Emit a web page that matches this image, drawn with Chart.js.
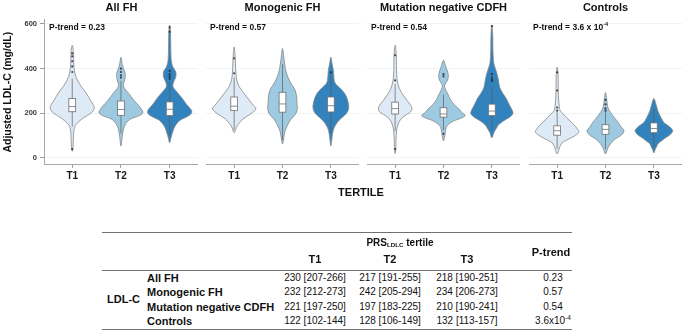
<!DOCTYPE html>
<html><head><meta charset="utf-8">
<script src="https://cdn.jsdelivr.net/npm/chart.js@4.4.0/dist/chart.umd.min.js"></script>
<style>
html,body{margin:0;padding:0;background:#fff;}
#wrap{position:relative;width:685px;height:331px;overflow:hidden;font-family:"Liberation Sans",Arial,Helvetica,sans-serif;color:#111;}
canvas{position:absolute;top:0;}
.t{position:absolute;white-space:nowrap;line-height:12px;height:12px;}
.b{font-weight:bold;}
.hl{position:absolute;height:0;border-top:1px solid #707070;}
sup{font-size:65%;vertical-align:4px;line-height:0;}
sub{font-size:62%;vertical-align:-1px;line-height:0;}
</style></head><body><div id="wrap"></div>
<script>
// ---------- data ----------
const tertiles = ['T1','T2','T3'];
const panelTitles = ['All FH','Monogenic FH','Mutation negative CDFH','Controls'];
const pTrend = ['0.23','0.57','0.54','3.6x10<sup>-4</sup>'];
const yTicks = [0,200,400,600];

const median_allFH = [230,217,218], q1_allFH = [207,191,190], q3_allFH = [266,255,251];
const median_mono  = [232,242,234], q1_mono  = [212,205,206], q3_mono  = [273,294,273];
const median_mutneg= [221,197,210], q1_mutneg= [197,183,190], q3_mutneg= [250,225,241];
const median_ctrl  = [122,128,132], q1_ctrl  = [102,106,113], q3_ctrl  = [144,149,157];

const whisk_allFH  = [[140,355],[110,345],[100,340]];
const whisk_mono   = [[125,360],[80,420],[110,370]];
const whisk_mutneg = [[120,330],[125,285],[125,315]];
const whisk_ctrl   = [[40,205],[40,210],[50,220]];

const out_allFH  = [[468,455,433,410,385,40],[400,385,370,360],[585,565,390,375,365,355]];
const out_mono   = [[446,379],[],[383]];
const out_mutneg = [[460,347,40],[375,365,108],[590,375,360,350,345]];
const out_ctrl   = [[383,302,226,212],[260,240,222,212],[]];

// violin profiles: [value, relative half-width]
const violin_allFH_T1 = [[505,0],[470,.06],[420,.07],[380,.12],[350,.23],[320,.41],[290,.64],[260,.82],[235,.98],[220,1.0],[205,.9],[190,.68],[175,.45],[160,.27],[145,.14],[120,.07],[80,.05],[40,.03],[30,0]];
const violin_allFH_T2 = [[451,0],[420,.06],[400,.12],[375,.2],[350,.17],[320,.12],[290,.35],[257,.6],[230,.85],[205,1.0],[190,.85],[175,.45],[155,.23],[130,.12],[110,.08],[80,.04],[54,0]];
const violin_allFH_T3 = [[595,0],[560,.04],[500,.05],[440,.07],[410,.14],[385,.28],[360,.27],[335,.16],[315,.17],[290,.38],[270,.55],[240,.77],[212,1.0],[195,.95],[180,.7],[167,.45],[140,.23],[110,.12],[90,.06],[68,0]];
const violin_mono_T1  = [[497,0],[450,.05],[400,.07],[360,.1],[320,.23],[277,.55],[243,.82],[220,1.0],[198,.77],[175,.41],[144,.14],[125,.06],[113,0]];
const violin_mono_T2  = [[490,0],[460,.05],[420,.1],[380,.18],[340,.35],[310,.55],[280,.64],[250,.66],[222,.68],[200,.62],[185,.5],[165,.33],[140,.2],[115,.1],[85,.05],[63,0]];
const violin_mono_T3  = [[451,0],[420,.06],[390,.12],[360,.14],[335,.2],[310,.45],[285,.66],[255,.78],[225,.82],[200,.72],[180,.5],[160,.3],[135,.15],[110,.08],[80,.04],[54,0]];
const violin_mutneg_T1= [[505,0],[460,.05],[400,.06],[350,.09],[310,.2],[280,.38],[257,.55],[235,.72],[220,.77],[205,.7],[190,.45],[170,.23],[140,.1],[100,.05],[40,.03],[20,0]];
const violin_mutneg_T2= [[437,0],[405,.12],[383,.2],[365,.22],[347,.18],[330,.07],[315,.06],[290,.18],[265,.3],[243,.45],[220,.7],[203,.85],[190,1.0],[178,.8],[165,.45],[145,.18],[125,.1],[100,.06],[77,0]];
const violin_mutneg_T3= [[595,0],[550,.04],[480,.05],[430,.08],[406,.14],[379,.23],[350,.3],[317,.36],[290,.5],[270,.64],[235,.82],[210,.95],[198,.96],[185,.85],[167,.55],[150,.32],[137,.23],[115,.1],[90,0]];
const violin_ctrl_T1  = [[406,0],[380,.04],[340,.05],[300,.05],[260,.07],[230,.1],[212,.14],[195,.3],[180,.45],[160,.65],[144,.82],[128,.95],[117,1.0],[105,.9],[90,.64],[78,.4],[68,.23],[50,.12],[40,.09],[18,0]];
const violin_ctrl_T2  = [[293,0],[260,.06],[230,.1],[212,.18],[195,.3],[175,.45],[160,.58],[144,.68],[130,.8],[122,.85],[110,.8],[99,.68],[85,.45],[68,.27],[50,.14],[40,.09],[18,0]];
const violin_ctrl_T3  = [[266,0],[240,.1],[212,.18],[190,.28],[175,.36],[160,.45],[152,.55],[140,.72],[128,.84],[120,.86],[110,.8],[99,.68],[88,.5],[77,.36],[65,.2],[54,.14],[40,.07],[23,0]];

// ---------- styles ----------
const FILLS = ['#deebf7','#9ecae1','#3182bd'];
const MAXW = 0.45;      // x-units for relative width 1
const BOXW = 0.07;
const FONT = '"Liberation Sans", Arial, Helvetica, sans-serif';
const panelLeft = [44,205,366,528];
const PANELW = 155;

const groups = [
  {violins:[violin_allFH_T1,violin_allFH_T2,violin_allFH_T3], med:median_allFH, q1:q1_allFH, q3:q3_allFH, wh:whisk_allFH, out:out_allFH},
  {violins:[violin_mono_T1,violin_mono_T2,violin_mono_T3], med:median_mono, q1:q1_mono, q3:q3_mono, wh:whisk_mono, out:out_mono},
  {violins:[violin_mutneg_T1,violin_mutneg_T2,violin_mutneg_T3], med:median_mutneg, q1:q1_mutneg, q3:q3_mutneg, wh:whisk_mutneg, out:out_mutneg},
  {violins:[violin_ctrl_T1,violin_ctrl_T2,violin_ctrl_T3], med:median_ctrl, q1:q1_ctrl, q3:q3_ctrl, wh:whisk_ctrl, out:out_ctrl}
];

function violinPlugin(g, idx){
  return {id:'violin'+idx, beforeDatasetsDraw(chart){
    const {ctx, scales:{x,y}, chartArea:ca} = chart;
    ctx.save();
    ctx.beginPath(); ctx.rect(ca.left, ca.top, ca.right-ca.left, ca.bottom-ca.top); ctx.clip();
    g.violins.forEach((prof,k)=>{
      const cx = k+1;
      const R = prof.map(([v,w])=>[x.getPixelForValue(cx+w*MAXW), y.getPixelForValue(v)]);
      const L = prof.slice(1,-1).reverse().map(([v,w])=>[x.getPixelForValue(cx-w*MAXW), y.getPixelForValue(v)]);
      const P = R.concat(L); const n = P.length;
      ctx.beginPath(); ctx.moveTo(P[0][0],P[0][1]);
      for(let i=0;i<n;i++){
        const p0=P[(i-1+n)%n], p1=P[i], p2=P[(i+1)%n], p3=P[(i+2)%n];
        ctx.bezierCurveTo(p1[0]+(p2[0]-p0[0])/6, p1[1]+(p2[1]-p0[1])/6,
                          p2[0]-(p3[0]-p1[0])/6, p2[1]-(p3[1]-p1[1])/6, p2[0], p2[1]);
      }
      ctx.closePath();
      ctx.fillStyle = FILLS[k]; ctx.fill();
      ctx.lineWidth = 0.8; ctx.strokeStyle = '#858585'; ctx.stroke();
      // whisker
      const px = x.getPixelForValue(cx);
      ctx.beginPath(); ctx.moveTo(px, y.getPixelForValue(g.wh[k][0])); ctx.lineTo(px, y.getPixelForValue(g.wh[k][1]));
      ctx.lineWidth = 0.7; ctx.strokeStyle = '#5a5a5a'; ctx.stroke();
      // box
      const bl = x.getPixelForValue(cx-BOXW), br = x.getPixelForValue(cx+BOXW);
      const bt = y.getPixelForValue(g.q3[k]), bb = y.getPixelForValue(g.q1[k]);
      ctx.fillStyle = '#fff'; ctx.fillRect(bl, bt, br-bl, bb-bt);
      ctx.lineWidth = 0.8; ctx.strokeStyle = '#707070'; ctx.strokeRect(bl, bt, br-bl, bb-bt);
      const my = y.getPixelForValue(g.med[k]);
      ctx.beginPath(); ctx.moveTo(bl,my); ctx.lineTo(br,my); ctx.stroke();
    });
    ctx.restore();
  }};
}

const wrap = document.getElementById('wrap');
function addText(html, left, cy, size, bold, align, width){
  const d = document.createElement('div');
  d.className = 't' + (bold?' b':'');
  d.innerHTML = html;
  d.style.fontSize = size+'px';
  d.style.top = (cy-6)+'px';
  if(align==='center'){ d.style.left=(left-(width||200)/2)+'px'; d.style.width=(width||200)+'px'; d.style.textAlign='center'; }
  else { d.style.left = left+'px'; }
  wrap.appendChild(d);
  return d;
}
function addLine(left, top, width){
  const d = document.createElement('div'); d.className='hl';
  d.style.left=left+'px'; d.style.top=top+'px'; d.style.width=width+'px';
  wrap.appendChild(d);
}

groups.forEach((g,i)=>{
  const first = i===0;
  const cv = document.createElement('canvas');
  const cw = first ? panelLeft[0]+PANELW : PANELW;
  cv.width = cw; cv.height = 200;
  cv.style.width = cw+'px'; cv.style.height='200px';
  cv.style.left = (first?0:panelLeft[i])+'px';
  wrap.appendChild(cv);
  const pts = [];
  g.out.forEach((arr,k)=>arr.forEach(v=>pts.push({x:k+1,y:v})));
  new Chart(cv, {
    type:'scatter',
    data:{datasets:[{data:pts, pointRadius:1.1, pointBackgroundColor:'rgba(40,40,40,0.85)', pointBorderWidth:0, pointHoverRadius:1.1}]},
    options:{
      responsive:false, animation:false, devicePixelRatio:1,
      events:[],
      layout:{padding:{top:19.5,left:0,right:0,bottom:0}},
      plugins:{legend:{display:false}, tooltip:{enabled:false}, title:{display:false}},
      scales:{
        x:{type:'linear', min:0.42, max:3.58,
           afterBuildTicks:s=>{ s.ticks = tertiles.map((t,k)=>({value:k+1})); },
           ticks:{callback:v=>tertiles[Math.round(v)-1], font:{family:FONT,size:10,weight:'bold'}, color:'#1a1a1a', padding:2, maxRotation:0, autoSkip:false},
           grid:{drawOnChartArea:false, drawTicks:true, tickLength:3, tickColor:'#a0a0a0'},
           border:{display:true, color:'#a8a8a8', width:1},
           afterFit:s=>{ s.height = 35.1; }
        },
        y:{type:'linear', min:-31, max:620,
           afterBuildTicks:s=>{ s.ticks = yTicks.map(v=>({value:v})); },
           ticks:{display:first, font:{family:FONT,size:7.5,weight:'bold'}, color:'#3a3a3a', padding:3},
           grid:{color:'#eef3f3', drawTicks:first, tickLength:first?4:0, tickColor:'#9a9a9a'},
           border:{display:first, color:'#a8a8a8', width:1},
           title:{display:first, text:'Adjusted LDL-C (mg/dL)', font:{family:FONT,size:10.5,weight:'bold'}, color:'#111', padding:{top:2,bottom:0}},
           afterFit:s=>{ s.width = first?panelLeft[0]:0; }
        }
      }
    },
    plugins:[violinPlugin(g,i)]
  });
  // panel title & p-trend
  addText(panelTitles[i], panelLeft[i]+PANELW/2, 7, 11, true, 'center', 200);
  addText('P-trend = ' + pTrend[i].replace('x',' x '), panelLeft[i]+5, 26.7, 8.5, true);
});
addText('TERTILE', 361, 192, 11, true, 'center', 200);

// ---------- table ----------
addLine(102, 232, 470);
addLine(102, 270, 470);
addLine(102, 329, 470);
addText('PRS<sub>LDLC</sub> tertile', 400, 243, 10, true, 'center', 120);
const colX = [315, 390, 467];
tertiles.forEach((t,k)=>addText(t, colX[k], 258.5, 11, true, 'center', 60));
addText('P-trend', 551, 252, 11, true, 'center', 80);
const rowY = [277.5, 292, 306.5, 321];
addText('LDL-C', 107, 299, 11, true);
groups.forEach((g,r)=>{
  addText(panelTitles[r], 147, rowY[r], 11, true);
  tertiles.forEach((t,k)=>addText(`${g.med[k]} [${g.q1[k]}-${g.q3[k]}]`, colX[k], rowY[r], 10, false, 'center', 90));
  addText(pTrend[r], 553, rowY[r], 10, false, 'center', 70);
});
</script></body></html>
